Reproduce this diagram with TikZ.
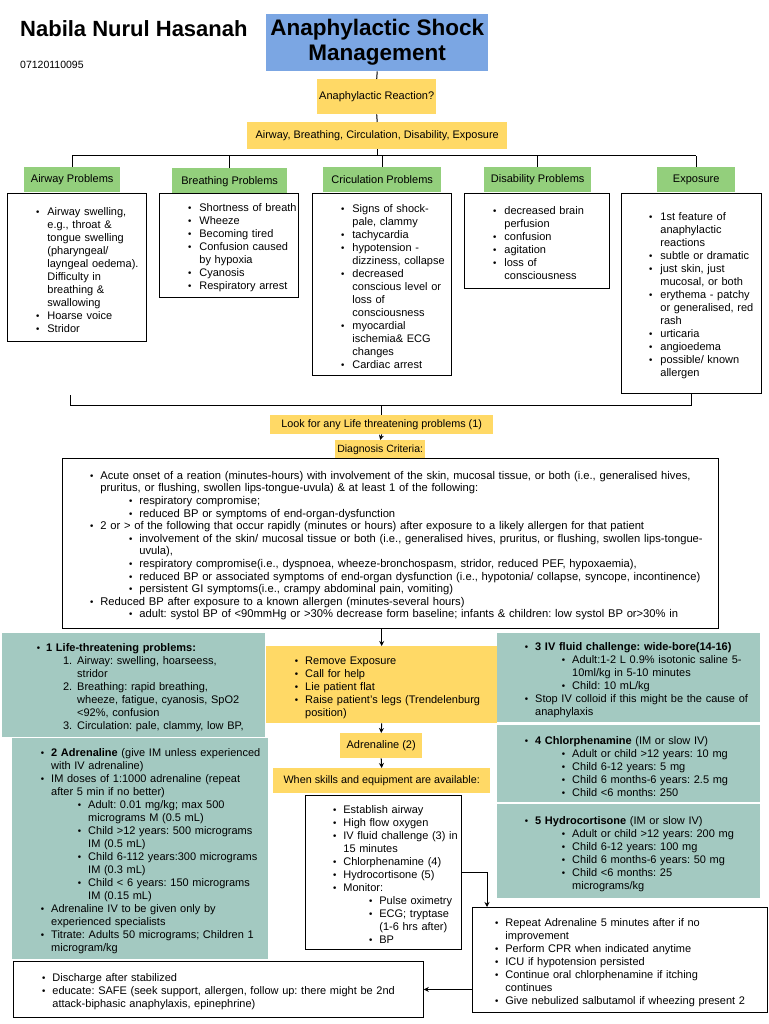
\documentclass[tikz,border=0pt]{standalone}
\usepackage{fontspec}
\setmainfont{Liberation Sans}
\newfontfamily\dejavu{DejaVu Sans}
\usepackage{enumitem}
\usetikzlibrary{arrows.meta}

\definecolor{blueT}{HTML}{7BA6E3}
\definecolor{yelB}{HTML}{FFD966}
\definecolor{grnB}{HTML}{93CF7C}
\definecolor{tealB}{HTML}{A3C9C1}

\frenchspacing
\newcommand{\bul}{{\dejavu\fontsize{9}{9}\selectfont\textbullet}}
\setlist[itemize]{nosep,label=\bul,labelsep=6pt,leftmargin=38pt,rightmargin=-15pt}
\setlist[itemize,2]{leftmargin=37pt}
\setlist[enumerate]{nosep,rightmargin=-15pt}

\begin{document}
\begin{tikzpicture}[x=1pt,y=-1pt,
  every node/.style={anchor=north west,inner sep=0pt,font=\fontsize{11}{13}\selectfont},
  ylwbox/.style={fill=yelB,align=center},
  grnbox/.style={fill=grnB},
  wbox/.style={draw,line width=0.8pt,align=left},
  tealbox/.style={fill=tealB,align=left},
  conn/.style={line width=1pt},
  arr/.style={line width=1pt,-{Stealth[length=5pt,width=5pt]}}
]
\useasboundingbox[fill=white] (0,0) rectangle (768,1024);

\node[anchor=base west,font=\bfseries\fontsize{22}{24}\selectfont] (name) at (20,37) {Nabila Nurul Hasanah};
\node[anchor=base west,font=\fontsize{10.5}{12}\selectfont] (nim) at (20,69) {07120110095};
\node[fill=blueT,minimum width=222pt,minimum height=57pt,align=center,
  font=\bfseries\fontsize{22.5}{25}\selectfont] (title) at (266,14) {Anaphylactic Shock\\Management};

\node[ylwbox,minimum width=119pt,minimum height=35pt] (react) at (317,79) {Anaphylactic Reaction?};
\node[ylwbox,minimum width=260pt,minimum height=27pt,font=\fontsize{10.9}{12}\selectfont] (abcde) at (247,122) {Airway, Breathing, Circulation, Disability, Exposure};

\node[grnbox,minimum width=96pt,minimum height=25pt] (airh) at (24,167) {Airway Problems};
\node[grnbox,minimum width=115pt,minimum height=26pt] (brh) at (172,168) {Breathing Problems};
\node[grnbox,minimum width=118pt,minimum height=25pt] (cirh) at (323,167) {Criculation Problems};
\node[grnbox,minimum width=107pt,minimum height=25pt] (dish) at (484,167) {Disability Problems};
\node[grnbox,minimum width=78pt,minimum height=25pt] (expoh) at (657,167) {Exposure};

\node[wbox,text width=139pt,minimum height=148pt] (airb) at (7,193) {\begin{itemize}[leftmargin=40pt,labelsep=7pt]
\item Airway swelling,\\ e.g., throat \&\\ tongue swelling\\ (pharyngeal/\\ layngeal oedema).\\ Difficulty in\\ breathing \&\\ swallowing
\item Hoarse voice
\item Stridor
\end{itemize}};
\node[wbox,text width=139pt,minimum height=104pt] (brb) at (159,193) {\begin{itemize}[leftmargin=40pt,labelsep=7pt]
\item Shortness of breath
\item Wheeze
\item Becoming tired
\item Confusion caused\\ by hypoxia
\item Cyanosis
\item Respiratory arrest
\end{itemize}};
\node[wbox,text width=139pt,minimum height=182pt] (cirb) at (312,193) {\begin{itemize}[leftmargin=40pt,labelsep=7pt]
\item Signs of shock-\\ pale, clammy
\item tachycardia
\item hypotension -\\ dizziness, collapse
\item decreased\\ conscious level or\\ loss of\\ consciousness
\item myocardial\\ ischemia\& ECG\\ changes
\item Cardiac arrest
\end{itemize}};
\node[wbox,text width=145pt,minimum height=95pt] (disb) at (464,193) {\begin{itemize}[leftmargin=40pt,labelsep=7pt]
\item decreased brain\\ perfusion
\item confusion
\item agitation
\item loss of\\ consciousness
\end{itemize}};
\node[wbox,text width=140pt,minimum height=200pt] (expob) at (621,193) {\begin{itemize}[leftmargin=39pt,labelsep=7pt]
\item 1st feature of\\ anaphylactic\\ reactions
\item subtle or dramatic
\item just skin, just\\ mucosal, or both
\item erythema - patchy\\ or generalised, red\\ rash
\item urticaria
\item angioedema
\item possible/ known\\ allergen
\end{itemize}};

\coordinate (bus) at (0,156);
\draw[conn] (title.south) -- (react.north);
\draw[conn] (react.south) -- (abcde.north);
\draw[conn] (abcde.south) -- (abcde.south |- bus);
\draw[conn] (airh.north |- bus) -- (expoh.north |- bus);
\foreach \n in {airh,brh,cirh,dish,expoh}
  \draw[conn] (\n.north) -- (\n.north |- bus);

\node[ylwbox,minimum width=223pt,minimum height=19pt,font=\fontsize{10.8}{12}\selectfont] (look) at (270,415) {Look for any Life threatening problems (1)};
\node[ylwbox,minimum width=90pt,minimum height=19pt,font=\fontsize{10.5}{12}\selectfont] (diag) at (335,440) {Diagnosis Criteria:};

\coordinate (brk) at (0,405);
\coordinate (brkl) at (70,395);
\draw[conn] (brkl) |- (expob.south |- brk) -- (expob.south);
\draw[conn] (brk -| look.north) -- (look.north);
\draw[arr] (look.south) -- (diag.north);

\node[wbox,text width=656pt,minimum height=170pt,font=\fontsize{11.2}{12.6}\selectfont] (crit) at (62,458) {\begin{itemize}[leftmargin=38pt]
\item Acute onset of a reation (minutes-hours) with involvement of the skin, mucosal tissue, or both (i.e., generalised hives,\\ pruritus, or flushing, swollen lips-tongue-uvula) \& at least 1 of the following:
\begin{itemize}[leftmargin=39pt]
\item respiratory compromise;
\item reduced BP or symptoms of end-organ-dysfunction
\end{itemize}
\item 2 or > of the following that occur rapidly (minutes or hours) after exposure to a likely allergen for that patient
\begin{itemize}[leftmargin=39pt]
\item involvement of the skin/ mucosal tissue or both (i.e., generalised hives, pruritus, or flushing, swollen lips-tongue-\\ uvula),
\item respiratory compromise(i.e., dyspnoea, wheeze-bronchospasm, stridor, reduced PEF, hypoxaemia),
\item reduced BP or associated symptoms of end-organ dysfunction (i.e., hypotonia/ collapse, syncope, incontinence)
\item persistent GI symptoms(i.e., crampy abdominal pain, vomiting)
\end{itemize}
\item Reduced BP after exposure to a known allergen (minutes-several hours)
\begin{itemize}[leftmargin=39pt]
\item adult: systol BP of <90mmHg or >30\% decrease form baseline; infants \& children: low systol BP or>30\% in
\end{itemize}
\end{itemize}};

\node[tealbox,text width=263pt,minimum height=104pt] (lt1) at (2,633) {\begin{itemize}[leftmargin=44pt,labelsep=5pt]
\item \textbf{1 Life-threatening problems:}
\begin{enumerate}[leftmargin=31pt,labelsep=5pt,label=\arabic*.]
\item Airway: swelling, hoarseess,\\ stridor
\item Breathing: rapid breathing,\\ wheeze, fatigue, cyanosis, SpO2\\ <92\%, confusion
\item Circulation: pale, clammy, low BP,
\end{enumerate}
\end{itemize}};
\node[fill=yelB,align=left,text width=231pt,minimum height=77pt] (remove) at (266,646) {\begin{itemize}[leftmargin=39pt]
\item Remove Exposure
\item Call for help
\item Lie patient flat
\item Raise patient's legs (Trendelenburg\\ position)
\end{itemize}};
\node[tealbox,text width=263pt,minimum height=89pt] (iv3) at (497,633) {\begin{itemize}
\item \textbf{3 IV fluid challenge: wide-bore(14-16)}
\begin{itemize}
\item Adult:1-2 L 0.9\% isotonic saline 5-\\ 10ml/kg in 5-10 minutes
\item Child: 10 mL/kg
\end{itemize}
\item Stop IV colloid if this might be the cause of\\ anaphylaxis
\end{itemize}};

\node[ylwbox,minimum width=82pt,minimum height=25pt] (adren) at (340,733) {Adrenaline (2)};
\node[ylwbox,minimum width=217pt,minimum height=25pt,font=\fontsize{10.8}{13}\selectfont] (when) at (273,768) {When skills and equipment are available:};

\node[tealbox,text width=263pt,minimum height=77pt] (chl4) at (497,725) {\begin{itemize}
\item \textbf{4 Chlorphenamine} (IM or slow IV)
\begin{itemize}
\item Adult or child >12 years: 10 mg
\item Child 6-12 years: 5 mg
\item Child 6 months-6 years: 2.5 mg
\item Child <6 months: 250
\end{itemize}
\end{itemize}};
\node[tealbox,text width=263pt,minimum height=94pt] (hyd5) at (497,804) {\begin{itemize}
\item \textbf{5 Hydrocortisone} (IM or slow IV)
\begin{itemize}
\item Adult or child >12 years: 200 mg
\item Child 6-12 years: 100 mg
\item Child 6 months-6 years: 50 mg
\item Child <6 months: 25\\ micrograms/kg
\end{itemize}
\end{itemize}};
\node[tealbox,text width=256pt,minimum height=221pt] (adr2) at (12,738) {\begin{itemize}[leftmargin=39pt]
\item \textbf{2 Adrenaline} (give IM unless experienced\\ with IV adrenaline)
\item IM doses of 1:1000 adrenaline (repeat\\ after 5 min if no better)
\begin{itemize}
\item Adult: 0.01 mg/kg; max 500\\ micrograms M (0.5 mL)
\item Child >12 years: 500 micrograms\\ IM (0.5 mL)
\item Child 6-112 years:300 micrograms\\ IM (0.3 mL)
\item Child < 6 years: 150 micrograms\\ IM (0.15 mL)
\end{itemize}
\item Adrenaline IV to be given only by\\ experienced specialists
\item Titrate: Adults 50 micrograms; Children 1\\ microgram/kg
\end{itemize}};

\node[wbox,fill=white,text width=156pt,minimum height=154pt] (mon) at (305,795) {\begin{itemize}
\item Establish airway
\item High flow oxygen
\item IV fluid challenge (3) in\\ 15 minutes
\item Chlorphenamine (4)
\item Hydrocortisone (5)
\item Monitor:
\begin{itemize}[leftmargin=36pt]
\item Pulse oximetry
\item ECG; tryptase\\ (1-6 hrs after)
\item BP
\end{itemize}
\end{itemize}};
\node[wbox,fill=white,text width=295pt,minimum height=105pt] (rep) at (472,907) {\begin{itemize}[leftmargin=33pt]
\item Repeat Adrenaline 5 minutes after if no\\ improvement
\item Perform CPR when indicated anytime
\item ICU if hypotension persisted
\item Continue oral chlorphenamine if itching\\ continues
\item Give nebulized salbutamol if wheezing present 2
\end{itemize}};
\node[wbox,fill=white,text width=410pt,minimum height=56pt] (dis) at (13,961) {\begin{itemize}[leftmargin=39pt]
\item Discharge after stabilized
\item educate: SAFE (seek support, allergen, follow up: there might be 2nd\\ attack-biphasic anaphylaxis, epinephrine)
\end{itemize}};

\draw[arr] (crit.south -| remove.north) -- (remove.north);
\draw[arr] (remove.south) -- (adren.north);
\draw[arr] (adren.south) -- (when.north);
\draw[arr] (mon.east) -| ([xshift=15pt]rep.north west);
\draw[arr] (rep.west |- dis.east) -- (dis.east);
\end{tikzpicture}
\end{document}
